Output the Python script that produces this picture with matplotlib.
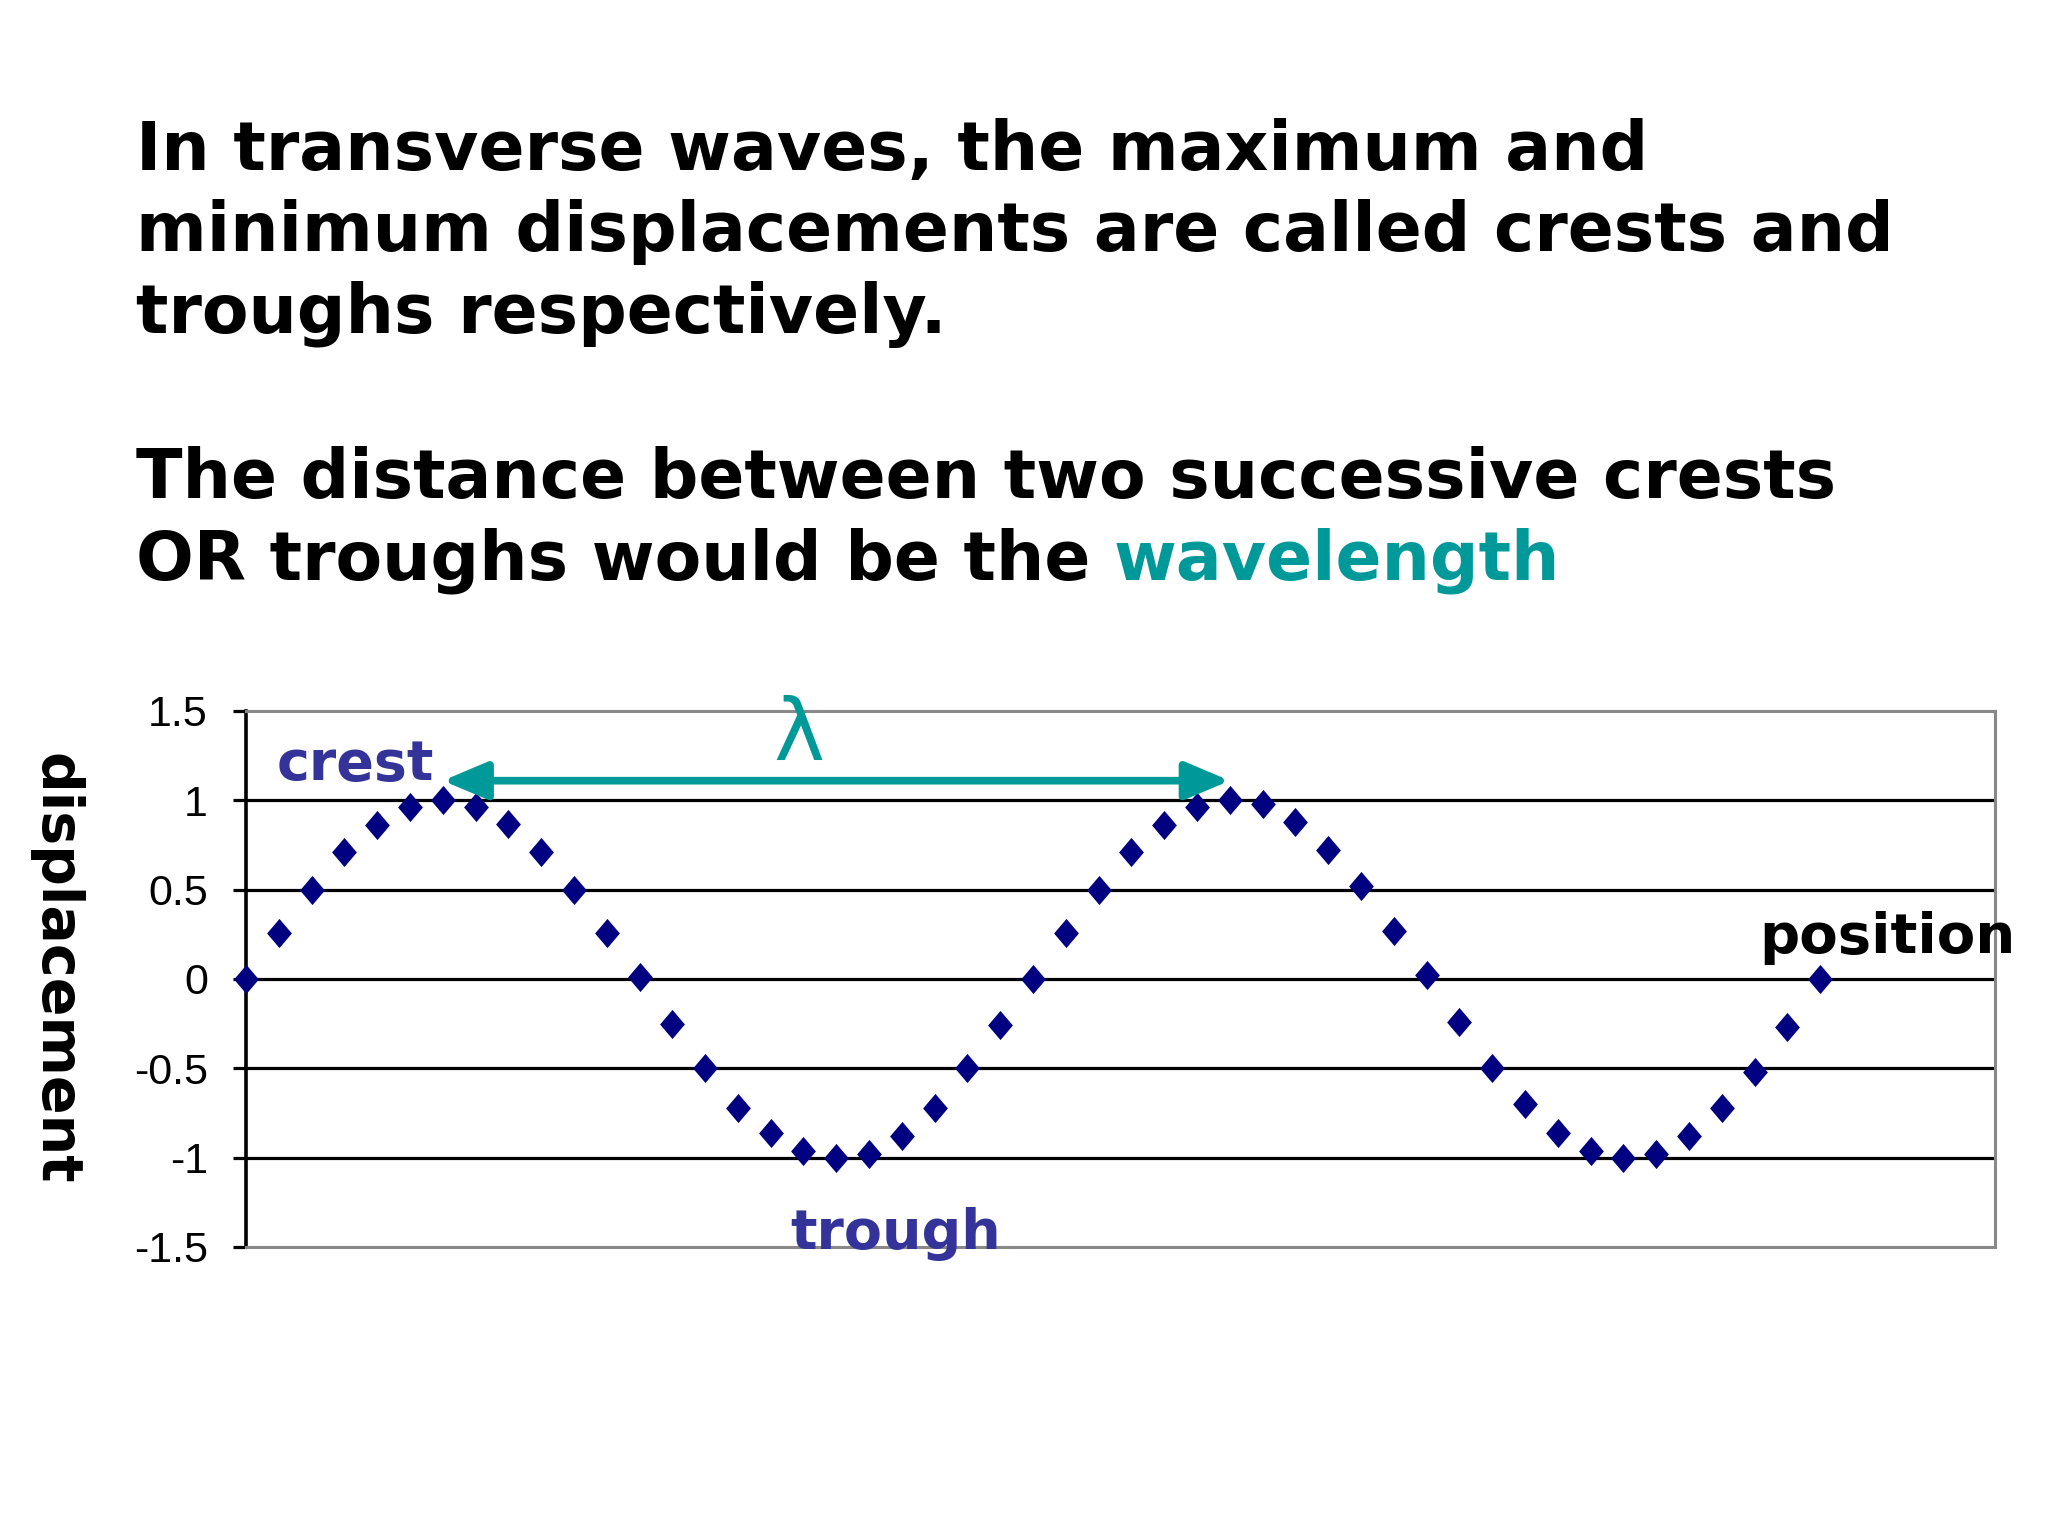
import matplotlib
matplotlib.use('Agg')
import matplotlib.pyplot as plt
from matplotlib.path import Path

# position (degrees) and displacement
x_deg = [0, 15, 30, 45, 60, 75, 90, 105, 120, 135, 150, 165, 180, 195, 210, 225, 240,
         255, 270, 285, 300, 315, 330, 345, 360, 375, 390, 405, 420, 435, 450, 465,
         480, 495, 510, 525, 540, 555, 570, 585, 600, 615, 630, 645, 660, 675, 690,
         705, 720]
disp = [0, 0.26, 0.5, 0.71, 0.86, 0.96, 1.0, 0.96, 0.87, 0.71, 0.5, 0.26, 0.01,
        -0.25, -0.5, -0.72, -0.86, -0.96, -1.0, -0.98, -0.88, -0.72, -0.5, -0.26, 0.0,
        0.26, 0.5, 0.71, 0.86, 0.96, 1.0, 0.98, 0.88, 0.72, 0.52, 0.27, 0.02,
        -0.24, -0.5, -0.7, -0.86, -0.96, -1.0, -0.98, -0.88, -0.72, -0.52, -0.27, 0.0]
y_ticks = [-1.5, -1, -0.5, 0, 0.5, 1, 1.5]
y_labels = ['-1.5', '-1', '-0.5', '0', '0.5', '1', '1.5']
grid_vals = [-1, -0.5, 0, 0.5, 1]

title_lines = ['In transverse waves, the maximum and',
               'minimum displacements are called crests and',
               'troughs respectively.']
line4 = 'The distance between two successive crests'
line5_a = 'OR troughs would be the '
line5_b = 'wavelength'

teal = '#009999'
navy = '#000080'
label_blue = '#333399'
bold_font = 'DejaVu Sans'

fig = plt.figure(figsize=(20.48, 15.36), dpi=100)
fig.patch.set_facecolor('white')

# heading text
tsize = 49
base_y = [1536 - 170, 1536 - 251, 1536 - 333]
for txt, by in zip(title_lines, base_y):
    fig.text(136 / 2048, by / 1536, txt, fontsize=tsize, fontweight='bold',
             family=bold_font, va='baseline', ha='left')
fig.text(136 / 2048, (1536 - 498) / 1536, line4, fontsize=tsize, fontweight='bold',
         family=bold_font, va='baseline', ha='left')
t5 = fig.text(136 / 2048, (1536 - 580) / 1536, line5_a, fontsize=tsize, fontweight='bold',
              family=bold_font, va='baseline', ha='left')
fig.canvas.draw()
bb = t5.get_window_extent()
fig.text(bb.x1 / 2048, (1536 - 580) / 1536, line5_b, fontsize=tsize, fontweight='bold',
         family=bold_font, va='baseline', ha='left', color=teal)

ax = fig.add_axes([246 / 2048, 1 - 1247 / 1536, (1995 - 246) / 2048, (1247 - 711) / 1536])
ax.set_xlim(0, 800)
ax.set_ylim(-1.5, 1.5)

for g in grid_vals:
    ax.axhline(g, color='black', lw=2.3, zorder=1)

# diamond markers a bit taller than wide
diamond = Path([(0, 1), (0.85, 0), (0, -1), (-0.85, 0), (0, 1)],
               [Path.MOVETO, Path.LINETO, Path.LINETO, Path.LINETO, Path.CLOSEPOLY])
ax.plot(x_deg, disp, linestyle='none', marker=diamond, markersize=21,
        color=navy, markeredgewidth=0, zorder=3, clip_on=False)

for side in ['top', 'right', 'bottom']:
    ax.spines[side].set_color('#888888')
    ax.spines[side].set_linewidth(2.2)
ax.spines['left'].set_color('black')
ax.spines['left'].set_linewidth(2.6)

ax.set_xticks([])
ax.set_yticks(y_ticks)
ax.set_yticklabels(y_labels, family='Liberation Sans', fontsize=31)
ax.tick_params(axis='y', length=9.5, width=2.3, pad=18, color='black')

# wavelength arrow and labels
ax.annotate('', xy=(450, 1.11), xytext=(90, 1.11),
            arrowprops=dict(arrowstyle='<|-|>,head_length=0.9,head_width=0.38',
                            color=teal, lw=5.5, mutation_scale=30,
                            shrinkA=0, shrinkB=0), annotation_clip=False)
ax.text(253, 1.36, 'λ', color=teal, fontsize=62, ha='center', va='center',
        family=bold_font, clip_on=False)
ax.text(50, 1.20, 'crest', color=label_blue, fontsize=40, fontweight='bold',
        family=bold_font, ha='center', va='center')
ax.text(297, -1.43, 'trough', color=label_blue, fontsize=40, fontweight='bold',
        family=bold_font, ha='center', va='center', clip_on=False)
ax.text(751, 0.23, 'position', color='black', fontsize=40.5, fontweight='bold',
        family=bold_font, ha='center', va='center', clip_on=False)

fig.text(55 / 2048, 1 - 969 / 1536, 'displacement', rotation=-90, fontsize=41,
         fontweight='bold', family=bold_font, ha='center', va='center')

fig.savefig('out.png', dpi=100, facecolor='white')
